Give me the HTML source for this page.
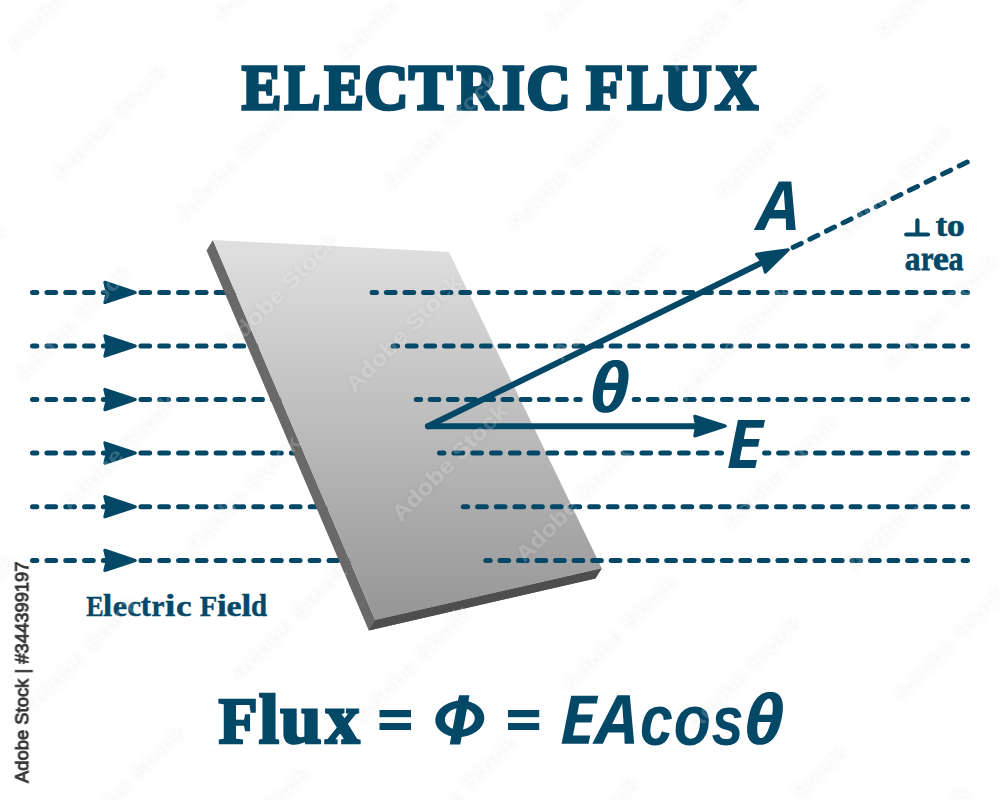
<!DOCTYPE html>
<html><head><meta charset="utf-8"><style>
html,body{margin:0;padding:0;background:#fff;}
#c{position:relative;width:1000px;height:800px;overflow:hidden;background:#fff;font-family:"Liberation Sans",sans-serif;}
</style></head><body><div id="c">
<svg width="1000" height="800" viewBox="0 0 1000 800" style="position:absolute;left:0;top:0"><defs><linearGradient id="g" x1="0" y1="240" x2="0" y2="620" gradientUnits="userSpaceOnUse"><stop offset="0" stop-color="#e0e0e0"/><stop offset="1" stop-color="#969696"/></linearGradient></defs><path d="M32.50 292.40H36.85M46.95 292.40H55.65M65.75 292.40H74.45M84.55 292.40H93.25M103.35 292.40H112.05M122.15 292.40H130.85M140.95 292.40H149.65M159.75 292.40H168.45M178.55 292.40H187.25M197.35 292.40H206.05M216.15 292.40H224.85M234.95 292.40H243.65M253.75 292.40H262.45M272.55 292.40H281.25M291.35 292.40H300.05M310.15 292.40H318.85M328.95 292.40H337.65M347.75 292.40H356.45M366.55 292.40H375.25M385.35 292.40H394.05M404.15 292.40H412.85M32.50 346.00H36.85M46.95 346.00H55.65M65.75 346.00H74.45M84.55 346.00H93.25M103.35 346.00H112.05M122.15 346.00H130.85M140.95 346.00H149.65M159.75 346.00H168.45M178.55 346.00H187.25M197.35 346.00H206.05M216.15 346.00H224.85M234.95 346.00H243.65M253.75 346.00H262.45M272.55 346.00H281.25M291.35 346.00H300.05M310.15 346.00H318.85M328.95 346.00H337.65M347.75 346.00H356.45M366.55 346.00H375.25M385.35 346.00H394.05M404.15 346.00H412.85M32.50 399.60H36.85M46.95 399.60H55.65M65.75 399.60H74.45M84.55 399.60H93.25M103.35 399.60H112.05M122.15 399.60H130.85M140.95 399.60H149.65M159.75 399.60H168.45M178.55 399.60H187.25M197.35 399.60H206.05M216.15 399.60H224.85M234.95 399.60H243.65M253.75 399.60H262.45M272.55 399.60H281.25M291.35 399.60H300.05M310.15 399.60H318.85M328.95 399.60H337.65M347.75 399.60H356.45M366.55 399.60H375.25M385.35 399.60H394.05M404.15 399.60H412.85M32.50 453.10H36.85M46.95 453.10H55.65M65.75 453.10H74.45M84.55 453.10H93.25M103.35 453.10H112.05M122.15 453.10H130.85M140.95 453.10H149.65M159.75 453.10H168.45M178.55 453.10H187.25M197.35 453.10H206.05M216.15 453.10H224.85M234.95 453.10H243.65M253.75 453.10H262.45M272.55 453.10H281.25M291.35 453.10H300.05M310.15 453.10H318.85M328.95 453.10H337.65M347.75 453.10H356.45M366.55 453.10H375.25M385.35 453.10H394.05M404.15 453.10H412.85M32.50 506.70H36.85M46.95 506.70H55.65M65.75 506.70H74.45M84.55 506.70H93.25M103.35 506.70H112.05M122.15 506.70H130.85M140.95 506.70H149.65M159.75 506.70H168.45M178.55 506.70H187.25M197.35 506.70H206.05M216.15 506.70H224.85M234.95 506.70H243.65M253.75 506.70H262.45M272.55 506.70H281.25M291.35 506.70H300.05M310.15 506.70H318.85M328.95 506.70H337.65M347.75 506.70H356.45M366.55 506.70H375.25M385.35 506.70H394.05M404.15 506.70H412.85M32.50 560.40H36.85M46.95 560.40H55.65M65.75 560.40H74.45M84.55 560.40H93.25M103.35 560.40H112.05M122.15 560.40H130.85M140.95 560.40H149.65M159.75 560.40H168.45M178.55 560.40H187.25M197.35 560.40H206.05M216.15 560.40H224.85M234.95 560.40H243.65M253.75 560.40H262.45M272.55 560.40H281.25M291.35 560.40H300.05M310.15 560.40H318.85M328.95 560.40H337.65M347.75 560.40H356.45M366.55 560.40H375.25M385.35 560.40H394.05M404.15 560.40H412.85" stroke="#044868" stroke-width="5.0" stroke-linecap="round" fill="none"/><polygon points="135.20,292.40 104.90,282.30 107.32,292.40 104.90,302.50" fill="#044868" stroke="#044868" stroke-width="3.2" stroke-linejoin="round"/><polygon points="135.20,346.00 104.90,335.90 107.32,346.00 104.90,356.10" fill="#044868" stroke="#044868" stroke-width="3.2" stroke-linejoin="round"/><polygon points="135.20,399.60 104.90,389.50 107.32,399.60 104.90,409.70" fill="#044868" stroke="#044868" stroke-width="3.2" stroke-linejoin="round"/><polygon points="135.20,453.10 104.90,443.00 107.32,453.10 104.90,463.20" fill="#044868" stroke="#044868" stroke-width="3.2" stroke-linejoin="round"/><polygon points="135.20,506.70 104.90,496.60 107.32,506.70 104.90,516.80" fill="#044868" stroke="#044868" stroke-width="3.2" stroke-linejoin="round"/><polygon points="135.20,560.40 104.90,550.30 107.32,560.40 104.90,570.50" fill="#044868" stroke="#044868" stroke-width="3.2" stroke-linejoin="round"/><polygon points="212.90,240.00 206.50,250.40 368.80,630.40 595.40,578.60 601.80,568.20 375.20,620.00" fill="#696969"/><polygon points="375.50,619.70 368.80,630.40 595.40,578.60 601.80,568.20" fill="#4e4e4e"/><polygon points="212.90,240.00 449.00,252.00 601.80,568.20 375.20,620.00" fill="url(#g)"/><path d="M372.10 292.40H376.45M386.36 292.40H395.06M404.96 292.40H413.66M423.57 292.40H432.27M442.18 292.40H450.88M460.78 292.40H469.48M479.39 292.40H488.09M497.99 292.40H506.69M516.60 292.40H525.30M535.21 292.40H543.91M553.81 292.40H562.51M572.42 292.40H581.12M591.02 292.40H599.73M609.63 292.40H618.33M628.24 292.40H636.94M646.84 292.40H655.54M665.45 292.40H674.15M684.06 292.40H692.76M702.66 292.40H711.36M721.27 292.40H729.97M739.88 292.40H748.58M758.48 292.40H767.18M777.09 292.40H785.79M795.69 292.40H804.39M814.30 292.40H823.00M832.91 292.40H841.61M851.51 292.40H860.21M870.12 292.40H878.82M888.73 292.40H897.43M907.33 292.40H916.03M925.94 292.40H934.64M944.54 292.40H953.24M963.15 292.40H967.50M393.20 346.00H397.55M407.38 346.00H416.08M425.90 346.00H434.60M444.43 346.00H453.13M462.95 346.00H471.65M481.48 346.00H490.18M500.00 346.00H508.70M518.53 346.00H527.23M537.06 346.00H545.76M555.58 346.00H564.28M574.11 346.00H582.81M592.63 346.00H601.33M611.16 346.00H619.86M629.69 346.00H638.39M648.21 346.00H656.91M666.74 346.00H675.44M685.26 346.00H693.96M703.79 346.00H712.49M722.31 346.00H731.01M740.84 346.00H749.54M759.37 346.00H768.07M777.89 346.00H786.59M796.42 346.00H805.12M814.94 346.00H823.64M833.47 346.00H842.17M852.00 346.00H860.70M870.52 346.00H879.22M889.05 346.00H897.75M907.57 346.00H916.27M926.10 346.00H934.80M944.62 346.00H953.32M963.15 346.00H967.50M416.30 399.60H420.65M430.16 399.60H438.86M448.37 399.60H457.07M466.58 399.60H475.28M484.79 399.60H493.49M503.01 399.60H511.71M521.22 399.60H529.92M539.43 399.60H548.13M557.64 399.60H566.34M575.85 399.60H580.20M634.20 399.60H638.55M648.37 399.60H657.07M666.88 399.60H675.58M685.40 399.60H694.10M703.92 399.60H712.62M722.43 399.60H731.13M740.95 399.60H749.65M759.47 399.60H768.17M777.98 399.60H786.68M796.50 399.60H805.20M815.02 399.60H823.72M833.53 399.60H842.23M852.05 399.60H860.75M870.57 399.60H879.27M889.08 399.60H897.78M907.60 399.60H916.30M926.12 399.60H934.82M944.63 399.60H953.33M963.15 399.60H967.50M439.50 453.10H443.85M453.95 453.10H462.65M472.75 453.10H481.45M491.55 453.10H500.25M510.35 453.10H519.05M529.15 453.10H537.85M547.95 453.10H556.65M566.75 453.10H575.45M585.55 453.10H594.25M604.35 453.10H613.05M623.15 453.10H631.85M641.95 453.10H650.65M660.75 453.10H669.45M679.55 453.10H688.25M698.35 453.10H707.05M717.15 453.10H721.50M764.50 453.10H768.85M778.60 453.10H787.30M797.06 453.10H805.76M815.51 453.10H824.21M833.97 453.10H842.67M852.42 453.10H861.12M870.88 453.10H879.58M889.33 453.10H898.03M907.79 453.10H916.49M926.24 453.10H934.94M944.70 453.10H953.40M963.15 453.10H967.50M463.30 506.70H467.65M477.62 506.70H486.32M496.30 506.70H505.00M514.97 506.70H523.67M533.65 506.70H542.35M552.32 506.70H561.02M570.99 506.70H579.69M589.67 506.70H598.37M608.34 506.70H617.04M627.02 506.70H635.72M645.69 506.70H654.39M664.36 506.70H673.06M683.04 506.70H691.74M701.71 506.70H710.41M720.39 506.70H729.09M739.06 506.70H747.76M757.74 506.70H766.44M776.41 506.70H785.11M795.08 506.70H803.78M813.76 506.70H822.46M832.43 506.70H841.13M851.11 506.70H859.81M869.78 506.70H878.48M888.45 506.70H897.15M907.13 506.70H915.83M925.80 506.70H934.50M944.48 506.70H953.18M963.15 506.70H967.50M485.80 560.40H490.15M499.98 560.40H508.68M518.50 560.40H527.20M537.03 560.40H545.73M555.56 560.40H564.26M574.08 560.40H582.78M592.61 560.40H601.31M611.14 560.40H619.84M629.67 560.40H638.37M648.19 560.40H656.89M666.72 560.40H675.42M685.25 560.40H693.95M703.77 560.40H712.47M722.30 560.40H731.00M740.83 560.40H749.53M759.35 560.40H768.05M777.88 560.40H786.58M796.41 560.40H805.11M814.93 560.40H823.63M833.46 560.40H842.16M851.99 560.40H860.69M870.52 560.40H879.22M889.04 560.40H897.74M907.57 560.40H916.27M926.10 560.40H934.80M944.62 560.40H953.32M963.15 560.40H967.50" stroke="#044868" stroke-width="5.0" stroke-linecap="round" fill="none"/><path d="M428.0 426.3H700" stroke="#044868" stroke-width="6" stroke-linecap="round" fill="none"/><polygon points="725.20,426.10 694.80,416.30 696.73,426.10 694.80,435.90" fill="#044868" stroke="#044868" stroke-width="3.2" stroke-linejoin="round"/><path d="M428.0 426.3L764.46 261.42" stroke="#044868" stroke-width="6" stroke-linecap="round" fill="none"/><polygon points="788.16,249.80 756.60,254.25 762.77,262.25 765.31,272.03" fill="#044868" stroke="#044868" stroke-width="3.2" stroke-linejoin="round"/><path d="M793.24 247.31L801.26 243.39M809.84 239.18L817.86 235.25M826.44 231.04L834.46 227.12M843.04 222.91L851.06 218.98M859.64 214.77L867.66 210.85M876.24 206.64L884.26 202.71M892.84 198.51L900.86 194.58M909.44 190.37L917.46 186.45M926.04 182.24L934.06 178.31M942.64 174.10L950.66 170.18M959.24 165.97L967.26 162.04" stroke="#044868" stroke-width="5.0" stroke-linecap="round" fill="none"/><rect x="379.5" y="710.0" width="31.5" height="7.2" fill="#044868"/><rect x="379.5" y="723.0" width="31.5" height="7.0" fill="#044868"/><rect x="508.0" y="710.0" width="31.2" height="7.2" fill="#044868"/><rect x="508.0" y="723.0" width="31.2" height="7.0" fill="#044868"/><path d="M917.4 220.3V234.5M906.2 234.5H928.0" stroke="#044868" stroke-width="4.2" stroke-linecap="round" fill="none"/><text x="0.70" y="0" font-size="64.29" font-family="Liberation Serif" font-weight="bold" fill="#044868" stroke="#044868" stroke-width="3.6" stroke-linejoin="miter" paint-order="stroke" transform="translate(241.30 108.70) scale(0.9147 1.0000)">E</text><text x="0.70" y="0" font-size="64.29" font-family="Liberation Serif" font-weight="bold" fill="#044868" stroke="#044868" stroke-width="3.6" stroke-linejoin="miter" paint-order="stroke" transform="translate(284.00 108.70) scale(0.8364 1.0000)">L</text><text x="0.70" y="0" font-size="64.29" font-family="Liberation Serif" font-weight="bold" fill="#044868" stroke="#044868" stroke-width="3.6" stroke-linejoin="miter" paint-order="stroke" transform="translate(323.90 108.70) scale(0.9147 1.0000)">E</text><text x="-1.34" y="0" font-size="64.29" font-family="Liberation Serif" font-weight="bold" fill="#044868" stroke="#044868" stroke-width="3.6" stroke-linejoin="miter" paint-order="stroke" transform="translate(365.60 108.70) scale(0.9501 1.0000)">C</text><text x="0.80" y="0" font-size="64.29" font-family="Liberation Serif" font-weight="bold" fill="#044868" stroke="#044868" stroke-width="3.6" stroke-linejoin="miter" paint-order="stroke" transform="translate(408.30 108.70) scale(1.0066 1.0000)">T</text><text x="0.70" y="0" font-size="64.29" font-family="Liberation Serif" font-weight="bold" fill="#044868" stroke="#044868" stroke-width="3.6" stroke-linejoin="miter" paint-order="stroke" transform="translate(456.30 108.70) scale(0.8768 1.0000)">R</text><text x="-0.37" y="0" font-size="64.29" font-family="Liberation Serif" font-weight="bold" fill="#044868" stroke="#044868" stroke-width="3.6" stroke-linejoin="miter" paint-order="stroke" transform="translate(502.50 108.70) scale(0.8934 1.0000)">I</text><text x="-1.34" y="0" font-size="64.29" font-family="Liberation Serif" font-weight="bold" fill="#044868" stroke="#044868" stroke-width="3.6" stroke-linejoin="miter" paint-order="stroke" transform="translate(527.70 108.70) scale(0.9501 1.0000)">C</text><text x="0.70" y="0" font-size="64.29" font-family="Liberation Serif" font-weight="bold" fill="#044868" stroke="#044868" stroke-width="3.6" stroke-linejoin="miter" paint-order="stroke" transform="translate(585.60 108.70) scale(0.9406 1.0000)">F</text><text x="0.70" y="0" font-size="64.29" font-family="Liberation Serif" font-weight="bold" fill="#044868" stroke="#044868" stroke-width="3.6" stroke-linejoin="miter" paint-order="stroke" transform="translate(626.90 108.70) scale(0.8364 1.0000)">L</text><text x="0.20" y="0" font-size="64.29" font-family="Liberation Serif" font-weight="bold" fill="#044868" stroke="#044868" stroke-width="3.6" stroke-linejoin="miter" paint-order="stroke" transform="translate(663.30 108.70) scale(1.0314 1.0000)">U</text><text x="0.61" y="0" font-size="64.29" font-family="Liberation Serif" font-weight="bold" fill="#044868" stroke="#044868" stroke-width="3.6" stroke-linejoin="miter" paint-order="stroke" transform="translate(714.50 108.70) scale(0.9254 1.0000)">X</text><text x="-0.28" y="0" font-size="28.00" font-family="Liberation Serif" font-weight="bold" fill="#044868" stroke="#044868" stroke-width="0.4" stroke-linejoin="miter" paint-order="stroke" transform="translate(86.50 616.00) scale(0.9323 1.0251)">E</text><text x="-0.35" y="0" font-size="28.00" font-family="Liberation Serif" font-weight="bold" fill="#044868" stroke="#044868" stroke-width="0.4" stroke-linejoin="miter" paint-order="stroke" transform="translate(103.50 616.00) scale(1.1882 1.0954)">l</text><text x="-0.76" y="0" font-size="28.00" font-family="Liberation Serif" font-weight="bold" fill="#044868" stroke="#044868" stroke-width="0.4" stroke-linejoin="miter" paint-order="stroke" transform="translate(113.50 616.00) scale(1.1663 1.0848)">e</text><text x="-0.76" y="0" font-size="28.00" font-family="Liberation Serif" font-weight="bold" fill="#044868" stroke="#044868" stroke-width="0.4" stroke-linejoin="miter" paint-order="stroke" transform="translate(128.00 616.00) scale(1.1187 1.0826)">c</text><text x="-0.25" y="0" font-size="28.00" font-family="Liberation Serif" font-weight="bold" fill="#044868" stroke="#044868" stroke-width="0.4" stroke-linejoin="miter" paint-order="stroke" transform="translate(141.00 616.00) scale(1.0929 1.0962)">t</text><text x="-0.55" y="0" font-size="28.00" font-family="Liberation Serif" font-weight="bold" fill="#044868" stroke="#044868" stroke-width="0.4" stroke-linejoin="miter" paint-order="stroke" transform="translate(152.00 616.00) scale(1.0458 1.0771)">r</text><text x="-0.42" y="0" font-size="28.00" font-family="Liberation Serif" font-weight="bold" fill="#044868" stroke="#044868" stroke-width="0.4" stroke-linejoin="miter" paint-order="stroke" transform="translate(165.50 616.00) scale(1.3279 1.0954)">i</text><text x="-0.76" y="0" font-size="28.00" font-family="Liberation Serif" font-weight="bold" fill="#044868" stroke="#044868" stroke-width="0.4" stroke-linejoin="miter" paint-order="stroke" transform="translate(177.00 616.00) scale(1.2530 1.0826)">c</text><text x="-0.28" y="0" font-size="28.00" font-family="Liberation Serif" font-weight="bold" fill="#044868" stroke="#044868" stroke-width="0.4" stroke-linejoin="miter" paint-order="stroke" transform="translate(200.00 616.00) scale(1.0201 1.0251)">F</text><text x="-0.42" y="0" font-size="28.00" font-family="Liberation Serif" font-weight="bold" fill="#044868" stroke="#044868" stroke-width="0.4" stroke-linejoin="miter" paint-order="stroke" transform="translate(217.50 616.00) scale(1.2581 1.0954)">i</text><text x="-0.76" y="0" font-size="28.00" font-family="Liberation Serif" font-weight="bold" fill="#044868" stroke="#044868" stroke-width="0.4" stroke-linejoin="miter" paint-order="stroke" transform="translate(227.50 616.00) scale(1.2112 1.0848)">e</text><text x="-0.35" y="0" font-size="28.00" font-family="Liberation Serif" font-weight="bold" fill="#044868" stroke="#044868" stroke-width="0.4" stroke-linejoin="miter" paint-order="stroke" transform="translate(242.00 616.00) scale(1.2581 1.0954)">l</text><text x="-0.93" y="0" font-size="28.00" font-family="Liberation Serif" font-weight="bold" fill="#044868" stroke="#044868" stroke-width="0.4" stroke-linejoin="miter" paint-order="stroke" transform="translate(252.00 616.00) scale(1.0328 1.0954)">d</text><text x="-0.13" y="0" font-size="30.00" font-family="Liberation Serif" font-weight="bold" fill="#044868" stroke="#044868" stroke-width="0.7" stroke-linejoin="miter" paint-order="stroke" transform="translate(935.80 236.15) scale(1.1315 1.0586)">t</text><text x="-0.79" y="0" font-size="30.00" font-family="Liberation Serif" font-weight="bold" fill="#044868" stroke="#044868" stroke-width="0.7" stroke-linejoin="miter" paint-order="stroke" transform="translate(948.00 236.15) scale(1.1778 1.0666)">o</text><text x="-0.62" y="0" font-size="30.00" font-family="Liberation Serif" font-weight="bold" fill="#044868" stroke="#044868" stroke-width="0.7" stroke-linejoin="miter" paint-order="stroke" transform="translate(905.50 270.35) scale(1.0505 1.0986)">a</text><text x="-0.46" y="0" font-size="30.00" font-family="Liberation Serif" font-weight="bold" fill="#044868" stroke="#044868" stroke-width="0.7" stroke-linejoin="miter" paint-order="stroke" transform="translate(921.30 270.35) scale(0.9391 1.0887)">r</text><text x="-0.68" y="0" font-size="30.00" font-family="Liberation Serif" font-weight="bold" fill="#044868" stroke="#044868" stroke-width="0.7" stroke-linejoin="miter" paint-order="stroke" transform="translate(933.90 270.35) scale(1.1872 1.0964)">e</text><text x="-0.62" y="0" font-size="30.00" font-family="Liberation Serif" font-weight="bold" fill="#044868" stroke="#044868" stroke-width="0.7" stroke-linejoin="miter" paint-order="stroke" transform="translate(949.20 270.35) scale(0.9945 1.0986)">a</text><text x="0.11" y="0" font-size="64.00" font-family="Liberation Serif" font-weight="bold" fill="#044868" stroke="#044868" stroke-width="2.4" stroke-linejoin="miter" paint-order="stroke" transform="translate(218.40 742.80) scale(1.0017 1.0300)">F</text><text x="-0.05" y="0" font-size="64.00" font-family="Liberation Serif" font-weight="bold" fill="#044868" stroke="#044868" stroke-width="2.4" stroke-linejoin="miter" paint-order="stroke" transform="translate(258.80 742.80) scale(1.1437 1.1051)">l</text><text x="0.23" y="0" font-size="64.00" font-family="Liberation Serif" font-weight="bold" fill="#044868" stroke="#044868" stroke-width="2.4" stroke-linejoin="miter" paint-order="stroke" transform="translate(280.00 742.80) scale(1.1613 1.1284)">u</text><text x="0.95" y="0" font-size="64.00" font-family="Liberation Serif" font-weight="bold" fill="#044868" stroke="#044868" stroke-width="2.4" stroke-linejoin="miter" paint-order="stroke" transform="translate(324.20 742.80) scale(1.0767 1.1284)">x</text><path d="M753.80 229.90L778.90 181.40L791.30 181.40L795.70 229.90L786.10 229.90L785.80 218.60L769.60 218.60L764.40 229.90ZM783.70 189.70L785.10 210.00L773.70 210.00Z" fill="#044868" fill-rule="evenodd"/><path d="M737.90 420.00L765.00 420.00L763.44 427.80L746.04 427.80L743.82 438.90L759.62 438.90L758.06 446.70L742.26 446.70L739.62 459.90L756.92 459.90L755.28 468.10L728.28 468.10Z" fill="#044868"/><g transform="matrix(1 0 -0.2 1 77.280 0)"><path d="M627.25 386.40L627.20 389.86L627.04 392.54L626.78 394.96L626.41 397.20L625.94 399.28L625.37 401.22L624.71 403.01L623.94 404.67L623.09 406.18L622.14 407.54L621.10 408.76L619.97 409.82L618.75 410.72L617.44 411.47L616.03 412.05L614.51 412.47L612.82 412.72L610.65 412.80L608.48 412.72L606.79 412.47L605.27 412.05L603.86 411.47L602.55 410.72L601.33 409.82L600.20 408.76L599.16 407.54L598.21 406.18L597.36 404.67L596.59 403.01L595.93 401.22L595.36 399.28L594.89 397.20L594.52 394.96L594.26 392.54L594.10 389.86L594.05 386.40L594.10 382.94L594.26 380.26L594.52 377.84L594.89 375.60L595.36 373.52L595.93 371.58L596.59 369.79L597.36 368.13L598.21 366.62L599.16 365.26L600.20 364.04L601.33 362.98L602.55 362.08L603.86 361.33L605.27 360.75L606.79 360.33L608.48 360.08L610.65 360.00L612.82 360.08L614.51 360.33L616.03 360.75L617.44 361.33L618.75 362.08L619.97 362.98L621.10 364.04L622.14 365.26L623.09 366.62L623.94 368.13L624.71 369.79L625.37 371.58L625.94 373.52L626.41 375.60L626.78 377.84L627.04 380.26L627.20 382.94ZM617.15 386.40L617.13 388.53L617.06 390.39L616.95 392.14L616.79 393.79L616.59 395.36L616.35 396.84L616.07 398.22L615.75 399.52L615.39 400.70L615.00 401.78L614.57 402.75L614.11 403.60L613.62 404.32L613.10 404.92L612.55 405.39L611.97 405.73L611.36 405.93L610.65 406.00L609.94 405.93L609.33 405.73L608.75 405.39L608.20 404.92L607.68 404.32L607.19 403.60L606.73 402.75L606.30 401.78L605.91 400.70L605.55 399.52L605.23 398.22L604.95 396.84L604.71 395.36L604.51 393.79L604.35 392.14L604.24 390.39L604.17 388.53L604.15 386.40L604.17 384.27L604.24 382.41L604.35 380.66L604.51 379.01L604.71 377.44L604.95 375.96L605.23 374.58L605.55 373.28L605.91 372.10L606.30 371.02L606.73 370.05L607.19 369.20L607.68 368.48L608.20 367.88L608.75 367.41L609.33 367.07L609.94 366.87L610.65 366.80L611.36 366.87L611.97 367.07L612.55 367.41L613.10 367.88L613.62 368.48L614.11 369.20L614.57 370.05L615.00 371.02L615.39 372.10L615.75 373.28L616.07 374.58L616.35 375.96L616.59 377.44L616.79 379.01L616.95 380.66L617.06 382.41L617.13 384.27Z" fill="#044868" fill-rule="evenodd"/><rect x="603.15" y="382.70" width="15.00" height="7.4" fill="#044868"/></g><g transform="matrix(1 0 -0.08 1 57.512 0)"><path d="M435.30 718.90A24.50 18.30 0 1 1 484.30 718.90A24.50 18.30 0 1 1 435.30 718.90ZM444.90 718.90A14.90 10.90 0 1 1 474.70 718.90A14.90 10.90 0 1 1 444.90 718.90Z" fill="#044868" fill-rule="evenodd"/></g><g transform="matrix(1 0 -0.19 1 136.591 0)"><rect x="454.55" y="695.20" width="10.5" height="49.2" fill="#044868"/></g><path d="M571.20 695.70L598.30 695.70L596.74 703.50L579.34 703.50L577.12 714.60L592.92 714.60L591.36 722.40L575.56 722.40L572.92 735.60L590.22 735.60L588.58 743.80L561.58 743.80Z" fill="#044868"/><path d="M592.30 743.80L617.40 695.30L629.80 695.30L634.20 743.80L624.60 743.80L624.30 732.50L608.10 732.50L602.90 743.80ZM622.20 703.60L623.60 723.90L612.20 723.90Z" fill="#044868" fill-rule="evenodd"/><text x="-1.60" y="0" font-size="52.00" font-family="Liberation Sans" font-weight="bold" font-style="italic" fill="#044868" transform="translate(641.90 744.60) scale(1.1333 1.3795)">c</text><text x="-1.60" y="0" font-size="52.00" font-family="Liberation Sans" font-weight="bold" font-style="italic" fill="#044868" transform="translate(675.60 744.60) scale(1.1654 1.3808)">o</text><text x="-0.58" y="0" font-size="52.00" font-family="Liberation Sans" font-weight="bold" font-style="italic" fill="#044868" transform="translate(712.20 744.60) scale(1.1070 1.3582)">s</text><g transform="matrix(1 0 -0.2 1 143.680 0)"><path d="M781.60 718.40L781.55 721.86L781.39 724.54L781.13 726.96L780.76 729.20L780.29 731.28L779.72 733.22L779.06 735.01L778.29 736.67L777.44 738.18L776.49 739.54L775.45 740.76L774.32 741.82L773.10 742.72L771.79 743.47L770.38 744.05L768.86 744.47L767.17 744.72L765.00 744.80L762.83 744.72L761.14 744.47L759.62 744.05L758.21 743.47L756.90 742.72L755.68 741.82L754.55 740.76L753.51 739.54L752.56 738.18L751.71 736.67L750.94 735.01L750.28 733.22L749.71 731.28L749.24 729.20L748.87 726.96L748.61 724.54L748.45 721.86L748.40 718.40L748.45 714.94L748.61 712.26L748.87 709.84L749.24 707.60L749.71 705.52L750.28 703.58L750.94 701.79L751.71 700.13L752.56 698.62L753.51 697.26L754.55 696.04L755.68 694.98L756.90 694.08L758.21 693.33L759.62 692.75L761.14 692.33L762.83 692.08L765.00 692.00L767.17 692.08L768.86 692.33L770.38 692.75L771.79 693.33L773.10 694.08L774.32 694.98L775.45 696.04L776.49 697.26L777.44 698.62L778.29 700.13L779.06 701.79L779.72 703.58L780.29 705.52L780.76 707.60L781.13 709.84L781.39 712.26L781.55 714.94ZM771.50 718.40L771.48 720.53L771.41 722.39L771.30 724.14L771.14 725.79L770.94 727.36L770.70 728.84L770.42 730.22L770.10 731.52L769.74 732.70L769.35 733.78L768.92 734.75L768.46 735.60L767.97 736.32L767.45 736.92L766.90 737.39L766.32 737.73L765.71 737.93L765.00 738.00L764.29 737.93L763.68 737.73L763.10 737.39L762.55 736.92L762.03 736.32L761.54 735.60L761.08 734.75L760.65 733.78L760.26 732.70L759.90 731.52L759.58 730.22L759.30 728.84L759.06 727.36L758.86 725.79L758.70 724.14L758.59 722.39L758.52 720.53L758.50 718.40L758.52 716.27L758.59 714.41L758.70 712.66L758.86 711.01L759.06 709.44L759.30 707.96L759.58 706.58L759.90 705.28L760.26 704.10L760.65 703.02L761.08 702.05L761.54 701.20L762.03 700.48L762.55 699.88L763.10 699.41L763.68 699.07L764.29 698.87L765.00 698.80L765.71 698.87L766.32 699.07L766.90 699.41L767.45 699.88L767.97 700.48L768.46 701.20L768.92 702.05L769.35 703.02L769.74 704.10L770.10 705.28L770.42 706.58L770.70 707.96L770.94 709.44L771.14 711.01L771.30 712.66L771.41 714.41L771.48 716.27Z" fill="#044868" fill-rule="evenodd"/><rect x="757.50" y="714.70" width="15.00" height="7.4" fill="#044868"/></g><defs><filter id="wmf" x="-10%" y="-30%" width="120%" height="160%"><feGaussianBlur in="SourceAlpha" stdDeviation="2.5" result="b"/><feComponentTransfer in="b" result="s"><feFuncA type="linear" slope="0.36"/></feComponentTransfer><feMerge><feMergeNode in="s"/><feMergeNode in="SourceGraphic"/></feMerge></filter></defs><g font-family="Liberation Sans" font-weight="bold" font-size="22" fill="#ffffff" fill-opacity="0.17" filter="url(#wmf)"><text x="0" y="0" transform="translate(-108.9 11.8) rotate(-45.5)" textLength="154" lengthAdjust="spacingAndGlyphs">Adobe Stock</text><text x="0" y="0" transform="translate(-100.0 342.5) rotate(-45.5)" textLength="154" lengthAdjust="spacingAndGlyphs">Adobe Stock</text><text x="0" y="0" transform="translate(61.0 182.0) rotate(-45.5)" textLength="154" lengthAdjust="spacingAndGlyphs">Adobe Stock</text><text x="0" y="0" transform="translate(222.0 21.5) rotate(-45.5)" textLength="154" lengthAdjust="spacingAndGlyphs">Adobe Stock</text><text x="0" y="0" transform="translate(-91.1 673.2) rotate(-45.5)" textLength="154" lengthAdjust="spacingAndGlyphs">Adobe Stock</text><text x="0" y="0" transform="translate(69.9 512.7) rotate(-45.5)" textLength="154" lengthAdjust="spacingAndGlyphs">Adobe Stock</text><text x="0" y="0" transform="translate(230.9 352.2) rotate(-45.5)" textLength="154" lengthAdjust="spacingAndGlyphs">Adobe Stock</text><text x="0" y="0" transform="translate(391.9 191.7) rotate(-45.5)" textLength="154" lengthAdjust="spacingAndGlyphs">Adobe Stock</text><text x="0" y="0" transform="translate(552.9 31.2) rotate(-45.5)" textLength="154" lengthAdjust="spacingAndGlyphs">Adobe Stock</text><text x="0" y="0" transform="translate(78.8 843.4) rotate(-45.5)" textLength="154" lengthAdjust="spacingAndGlyphs">Adobe Stock</text><text x="0" y="0" transform="translate(239.8 682.9) rotate(-45.5)" textLength="154" lengthAdjust="spacingAndGlyphs">Adobe Stock</text><text x="0" y="0" transform="translate(400.8 522.4) rotate(-45.5)" textLength="154" lengthAdjust="spacingAndGlyphs">Adobe Stock</text><text x="0" y="0" transform="translate(561.8 361.9) rotate(-45.5)" textLength="154" lengthAdjust="spacingAndGlyphs">Adobe Stock</text><text x="0" y="0" transform="translate(722.8 201.4) rotate(-45.5)" textLength="154" lengthAdjust="spacingAndGlyphs">Adobe Stock</text><text x="0" y="0" transform="translate(883.8 40.9) rotate(-45.5)" textLength="154" lengthAdjust="spacingAndGlyphs">Adobe Stock</text><text x="0" y="0" transform="translate(409.7 853.1) rotate(-45.5)" textLength="154" lengthAdjust="spacingAndGlyphs">Adobe Stock</text><text x="0" y="0" transform="translate(570.7 692.6) rotate(-45.5)" textLength="154" lengthAdjust="spacingAndGlyphs">Adobe Stock</text><text x="0" y="0" transform="translate(731.7 532.1) rotate(-45.5)" textLength="154" lengthAdjust="spacingAndGlyphs">Adobe Stock</text><text x="0" y="0" transform="translate(892.7 371.6) rotate(-45.5)" textLength="154" lengthAdjust="spacingAndGlyphs">Adobe Stock</text><text x="0" y="0" transform="translate(740.6 862.8) rotate(-45.5)" textLength="154" lengthAdjust="spacingAndGlyphs">Adobe Stock</text><text x="0" y="0" transform="translate(901.6 702.3) rotate(-45.5)" textLength="154" lengthAdjust="spacingAndGlyphs">Adobe Stock</text><text x="0" y="0" transform="translate(14.8 53.0) rotate(-45.5)" textLength="154" lengthAdjust="spacingAndGlyphs">Adobe Stock</text><text x="0" y="0" transform="translate(23.7 383.7) rotate(-45.5)" textLength="154" lengthAdjust="spacingAndGlyphs">Adobe Stock</text><text x="0" y="0" transform="translate(184.7 223.2) rotate(-45.5)" textLength="154" lengthAdjust="spacingAndGlyphs">Adobe Stock</text><text x="0" y="0" transform="translate(345.7 62.7) rotate(-45.5)" textLength="154" lengthAdjust="spacingAndGlyphs">Adobe Stock</text><text x="0" y="0" transform="translate(32.6 714.4) rotate(-45.5)" textLength="154" lengthAdjust="spacingAndGlyphs">Adobe Stock</text><text x="0" y="0" transform="translate(193.6 553.9) rotate(-45.5)" textLength="154" lengthAdjust="spacingAndGlyphs">Adobe Stock</text><text x="0" y="0" transform="translate(354.6 393.4) rotate(-45.5)" textLength="154" lengthAdjust="spacingAndGlyphs">Adobe Stock</text><text x="0" y="0" transform="translate(515.6 232.9) rotate(-45.5)" textLength="154" lengthAdjust="spacingAndGlyphs">Adobe Stock</text><text x="0" y="0" transform="translate(676.6 72.4) rotate(-45.5)" textLength="154" lengthAdjust="spacingAndGlyphs">Adobe Stock</text><text x="0" y="0" transform="translate(202.5 884.6) rotate(-45.5)" textLength="154" lengthAdjust="spacingAndGlyphs">Adobe Stock</text><text x="0" y="0" transform="translate(363.5 724.1) rotate(-45.5)" textLength="154" lengthAdjust="spacingAndGlyphs">Adobe Stock</text><text x="0" y="0" transform="translate(524.5 563.6) rotate(-45.5)" textLength="154" lengthAdjust="spacingAndGlyphs">Adobe Stock</text><text x="0" y="0" transform="translate(685.5 403.1) rotate(-45.5)" textLength="154" lengthAdjust="spacingAndGlyphs">Adobe Stock</text><text x="0" y="0" transform="translate(846.5 242.6) rotate(-45.5)" textLength="154" lengthAdjust="spacingAndGlyphs">Adobe Stock</text><text x="0" y="0" transform="translate(1007.5 82.1) rotate(-45.5)" textLength="154" lengthAdjust="spacingAndGlyphs">Adobe Stock</text><text x="0" y="0" transform="translate(533.4 894.3) rotate(-45.5)" textLength="154" lengthAdjust="spacingAndGlyphs">Adobe Stock</text><text x="0" y="0" transform="translate(694.4 733.8) rotate(-45.5)" textLength="154" lengthAdjust="spacingAndGlyphs">Adobe Stock</text><text x="0" y="0" transform="translate(855.4 573.3) rotate(-45.5)" textLength="154" lengthAdjust="spacingAndGlyphs">Adobe Stock</text><text x="0" y="0" transform="translate(864.3 904.0) rotate(-45.5)" textLength="154" lengthAdjust="spacingAndGlyphs">Adobe Stock</text></g><text x="0" y="0" font-size="18.4" font-family="Liberation Sans" fill="#363636" stroke="#363636" stroke-width="0.9" transform="translate(28.3 783.0) rotate(-90)">Adobe Stock | #344399197</text></svg>
</div></body></html>
